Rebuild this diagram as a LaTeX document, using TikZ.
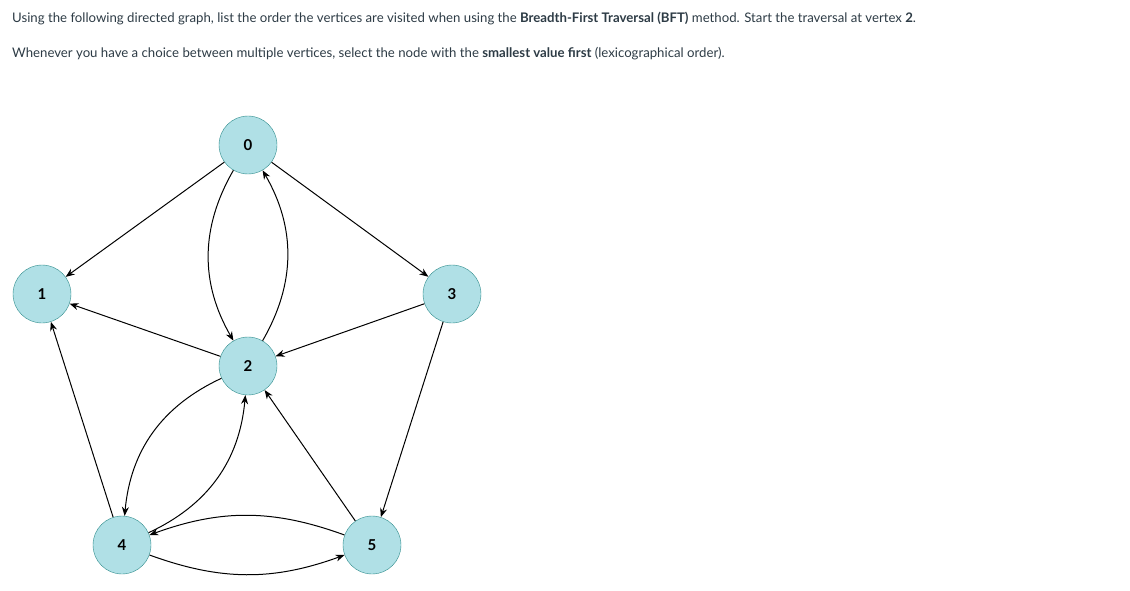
\documentclass[tikz,border=0pt]{standalone}
\usepackage{fontspec}
\setmainfont{Lato}
\usetikzlibrary{arrows.meta}
\definecolor{nfill}{HTML}{B0E0E6}
\definecolor{ndraw}{HTML}{2E8B8B}
\definecolor{txt}{HTML}{2D3B45}
\tikzset{
  vtx/.style={circle,draw=ndraw,fill=nfill,minimum size=58pt,inner sep=0pt,font=\fontsize{15}{18}\selectfont\bfseries},
  edge/.style={-{Stealth[length=9pt,width=7pt]},line width=1pt,shorten >=0pt},
  para/.style={anchor=west,text=txt,font=\fontsize{13.2}{16}\selectfont,inner sep=0pt}
}
\begin{document}
\begin{tikzpicture}[x=1pt,y=-1pt]
\useasboundingbox (0,0) rectangle (1130,591);
\node[para] (t1) at (12,19) {Using the following directed graph, list the order the vertices are visited when using the \textbf{Breadth-First Traversal (BFT)} method. Start the traversal at vertex \textbf{2}.};
\node[para] (t2) at (12,54) {Whenever you have a choice between multiple vertices, select the node with the \textbf{smallest value first} (lexicographical order).};
\node[vtx] (n0) at (248,145) {0};
\node[vtx] (n1) at (42,294) {1};
\node[vtx] (n3) at (452,294) {3};
\node[vtx] (n2) at (248,366) {2};
\node[vtx] (n4) at (122,545) {4};
\node[vtx] (n5) at (372,545) {5};
\draw[edge] (n0) -- (n1);
\draw[edge] (n0) -- (n3);
\draw[edge] (n0) to[bend right=30] (n2);
\draw[edge] (n2) to[bend right=30] (n0);
\draw[edge] (n2) -- (n1);
\draw[edge] (n3) -- (n2);
\draw[edge] (n3) -- (n5);
\draw[edge] (n4) -- (n1);
\draw[edge] (n5) -- (n2);
\draw[edge] (n2) to[bend right=30] (n4);
\draw[edge] (n4) to[bend right=30] (n2);
\draw[edge] (n5) to[bend right=20] (n4);
\draw[edge] (n4) to[bend right=20] (n5);
\end{tikzpicture}
\end{document}
